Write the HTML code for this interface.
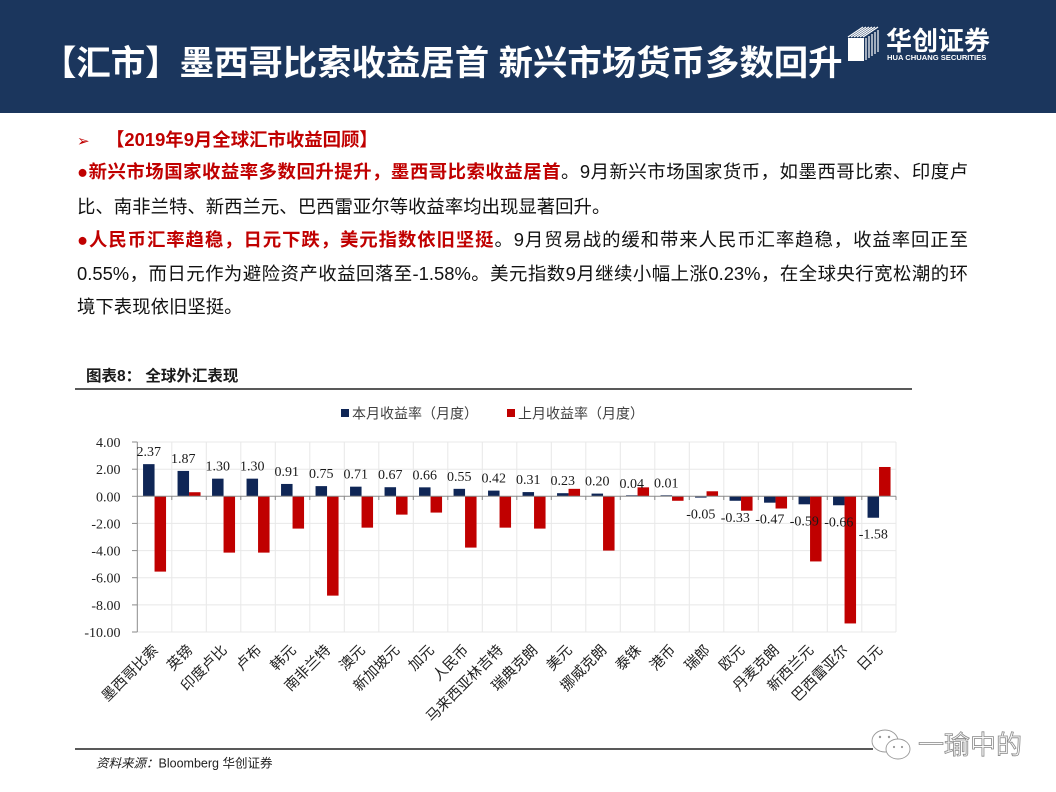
<!DOCTYPE html>
<html><head><meta charset="utf-8">
<style>
html,body{margin:0;padding:0;}
body{width:1056px;height:792px;position:relative;background:#fff;overflow:hidden;font-family:"Liberation Sans","Noto Sans CJK SC",sans-serif;}
.hdr{position:absolute;left:0;top:0;width:1056px;height:113px;background:#1b365d;}
.title{position:absolute;left:42px;top:40px;font-size:34.4px;font-weight:bold;color:#fff;white-space:nowrap;line-height:48px;font-family:"Liberation Sans","Noto Sans CJK SC",sans-serif;}
.logo1{position:absolute;left:886px;top:26px;font-size:26px;font-weight:bold;color:#fff;line-height:30px;letter-spacing:0px;white-space:nowrap;}
.logo2{position:absolute;left:887px;top:53px;font-size:7.6px;font-weight:bold;color:#fff;line-height:9px;white-space:nowrap;}
.ln{position:absolute;left:77px;font-size:18.4px;line-height:34px;height:34px;white-space:nowrap;color:#111;}
.j{width:891px;text-align:justify;text-align-last:justify;white-space:normal;overflow:hidden;}
.r{color:#c00000;font-weight:bold;}
</style></head>
<body>
<div class="hdr"></div>
<div class="title">【汇市】墨西哥比索收益居首 新兴市场货币多数回升</div>
<svg style="position:absolute;left:0;top:0" width="1056" height="113">
  <g stroke="#fff" stroke-width="1.2" fill="none">
    <line x1="848" y1="37" x2="863" y2="27"/>
    <line x1="851" y1="37" x2="866" y2="27"/>
    <line x1="854" y1="37" x2="869" y2="27"/>
    <line x1="857" y1="37" x2="872" y2="27"/>
    <line x1="860" y1="37" x2="875" y2="27"/>
    <line x1="863" y1="37" x2="878" y2="27"/>
    <line x1="866" y1="38" x2="866" y2="60"/>
    <line x1="869" y1="36" x2="869" y2="58"/>
    <line x1="872" y1="34" x2="872" y2="56"/>
    <line x1="875" y1="32" x2="875" y2="54"/>
    <line x1="878" y1="30" x2="878" y2="52"/>
  </g>
  <rect x="848" y="38" width="16" height="23" fill="#fff"/>
</svg>
<div class="logo1">华创证券</div>
<div class="logo2">HUA CHUANG SECURITIES</div>

<div class="ln" style="top:123px;left:77px;"><span style="color:#c00000;font-family:'DejaVu Sans',sans-serif;font-size:15px;">➢</span></div>
<div class="ln r" style="top:123px;left:106px;">【2019年9月全球汇市收益回顾】</div>
<div class="ln j" style="top:155px;"><span class="r">●新兴市场国家收益率多数回升提升，墨西哥比索收益居首</span>。9月新兴市场国家货币，如墨西哥比索、印度卢</div>
<div class="ln" style="top:190px;">比、南非兰特、新西兰元、巴西雷亚尔等收益率均出现显著回升。</div>
<div class="ln j" style="top:223px;"><span class="r">●人民币汇率趋稳，日元下跌，美元指数依旧坚挺</span>。9月贸易战的缓和带来人民币汇率趋稳，收益率回正至</div>
<div class="ln j" style="top:257px;">0.55%，而日元作为避险资产收益回落至-1.58%。美元指数9月继续小幅上涨0.23%，在全球央行宽松潮的环</div>
<div class="ln" style="top:290px;">境下表现依旧坚挺。</div>

<svg style="position:absolute;left:0;top:0" width="1056" height="792" font-family="'Liberation Serif',serif">
  <!-- chart title -->
  <text x="86" y="381" font-family="'Liberation Sans','Noto Sans CJK SC',sans-serif" font-size="15.5" font-weight="bold" fill="#1a1a1a">图表8： 全球外汇表现</text>
  <line x1="75" y1="389" x2="912" y2="389" stroke="#222" stroke-width="1.5"/>
  <!-- legend -->
  <rect x="341" y="409" width="8" height="8" fill="#0f2656"/>
  <text x="352" y="418.5" font-family="'Liberation Sans','Noto Sans CJK SC',sans-serif" font-size="14" fill="#404040">本月收益率（月度）</text>
  <rect x="507" y="409" width="8" height="8" fill="#c00000"/>
  <text x="518" y="418.5" font-family="'Liberation Sans','Noto Sans CJK SC',sans-serif" font-size="14" fill="#404040">上月收益率（月度）</text>
  <!-- grid -->
  <g stroke="#e8e8e8" stroke-width="1">
    <line x1="137.3" y1="442" x2="896" y2="442"/>
    <line x1="137.3" y1="469.2" x2="896" y2="469.2"/>
    <line x1="137.3" y1="523.4" x2="896" y2="523.4"/>
    <line x1="137.3" y1="550.6" x2="896" y2="550.6"/>
    <line x1="137.3" y1="577.7" x2="896" y2="577.7"/>
    <line x1="137.3" y1="604.9" x2="896" y2="604.9"/>
    <line x1="137.3" y1="632" x2="896" y2="632"/>
    <line x1="171.8" y1="442" x2="171.8" y2="632"/>
    <line x1="206.3" y1="442" x2="206.3" y2="632"/>
    <line x1="240.8" y1="442" x2="240.8" y2="632"/>
    <line x1="275.3" y1="442" x2="275.3" y2="632"/>
    <line x1="309.8" y1="442" x2="309.8" y2="632"/>
    <line x1="344.3" y1="442" x2="344.3" y2="632"/>
    <line x1="378.8" y1="442" x2="378.8" y2="632"/>
    <line x1="413.3" y1="442" x2="413.3" y2="632"/>
    <line x1="447.8" y1="442" x2="447.8" y2="632"/>
    <line x1="482.3" y1="442" x2="482.3" y2="632"/>
    <line x1="516.8" y1="442" x2="516.8" y2="632"/>
    <line x1="551.3" y1="442" x2="551.3" y2="632"/>
    <line x1="585.8" y1="442" x2="585.8" y2="632"/>
    <line x1="620.3" y1="442" x2="620.3" y2="632"/>
    <line x1="654.8" y1="442" x2="654.8" y2="632"/>
    <line x1="689.3" y1="442" x2="689.3" y2="632"/>
    <line x1="723.8" y1="442" x2="723.8" y2="632"/>
    <line x1="758.3" y1="442" x2="758.3" y2="632"/>
    <line x1="792.8" y1="442" x2="792.8" y2="632"/>
    <line x1="827.3" y1="442" x2="827.3" y2="632"/>
    <line x1="861.8" y1="442" x2="861.8" y2="632"/>
    <line x1="896" y1="442" x2="896" y2="632"/>
  </g>
  <!-- bars navy -->
  <g fill="#0f2656">
    <rect x="143.05" y="464.14" width="11.5" height="32.16"/>
    <rect x="177.55" y="470.92" width="11.5" height="25.38"/>
    <rect x="212.05" y="478.66" width="11.5" height="17.64"/>
    <rect x="246.55" y="478.66" width="11.5" height="17.64"/>
    <rect x="281.05" y="483.95" width="11.5" height="12.35"/>
    <rect x="315.55" y="486.12" width="11.5" height="10.18"/>
    <rect x="350.05" y="486.67" width="11.5" height="9.63"/>
    <rect x="384.55" y="487.21" width="11.5" height="9.09"/>
    <rect x="419.05" y="487.34" width="11.5" height="8.96"/>
    <rect x="453.55" y="488.84" width="11.5" height="7.46"/>
    <rect x="488.05" y="490.6" width="11.5" height="5.7"/>
    <rect x="522.55" y="492.09" width="11.5" height="4.21"/>
    <rect x="557.05" y="493.18" width="11.5" height="3.12"/>
    <rect x="591.55" y="493.59" width="11.5" height="2.71"/>
    <rect x="626.05" y="495.3" width="11.5" height="1.0"/>
    <rect x="660.55" y="495.3" width="11.5" height="1.0"/>
    <rect x="695.05" y="496.3" width="11.5" height="1.3"/>
    <rect x="729.55" y="496.3" width="11.5" height="4.48"/>
    <rect x="764.05" y="496.3" width="11.5" height="6.38"/>
    <rect x="798.55" y="496.3" width="11.5" height="8.01"/>
    <rect x="833.05" y="496.3" width="11.5" height="8.96"/>
    <rect x="867.55" y="496.3" width="11.5" height="21.44"/>
  </g>
  <!-- bars red -->
  <g fill="#c00000">
    <rect x="154.55" y="496.3" width="11.5" height="75.31"/>
    <rect x="189.05" y="492.23" width="11.5" height="4.07"/>
    <rect x="223.55" y="496.3" width="11.5" height="56.32"/>
    <rect x="258.05" y="496.3" width="11.5" height="56.32"/>
    <rect x="292.55" y="496.3" width="11.5" height="32.3"/>
    <rect x="327.05" y="496.3" width="11.5" height="99.33"/>
    <rect x="361.55" y="496.3" width="11.5" height="31.35"/>
    <rect x="396.05" y="496.3" width="11.5" height="18.32"/>
    <rect x="430.55" y="496.3" width="11.5" height="16.28"/>
    <rect x="465.05" y="496.3" width="11.5" height="51.29"/>
    <rect x="499.55" y="496.3" width="11.5" height="31.35"/>
    <rect x="534.05" y="496.3" width="11.5" height="32.3"/>
    <rect x="568.55" y="488.84" width="11.5" height="7.46"/>
    <rect x="603.05" y="496.3" width="11.5" height="54.28"/>
    <rect x="637.55" y="487.34" width="11.5" height="8.96"/>
    <rect x="672.05" y="496.3" width="11.5" height="4.48"/>
    <rect x="706.55" y="491.28" width="11.5" height="5.02"/>
    <rect x="741.05" y="496.3" width="11.5" height="14.38"/>
    <rect x="775.55" y="496.3" width="11.5" height="12.21"/>
    <rect x="810.05" y="496.3" width="11.5" height="65.14"/>
    <rect x="844.55" y="496.3" width="11.5" height="127.15"/>
    <rect x="879.05" y="466.99" width="11.5" height="29.31"/>
  </g>
  <!-- axes -->
  <g stroke="#8a8a8a" stroke-width="1">
    <line x1="137.3" y1="442" x2="137.3" y2="632"/>
    <line x1="132" y1="442" x2="137.3" y2="442"/>
    <line x1="132" y1="469.2" x2="137.3" y2="469.2"/>
    <line x1="132" y1="496.3" x2="137.3" y2="496.3"/>
    <line x1="132" y1="523.4" x2="137.3" y2="523.4"/>
    <line x1="132" y1="550.6" x2="137.3" y2="550.6"/>
    <line x1="132" y1="577.7" x2="137.3" y2="577.7"/>
    <line x1="132" y1="604.9" x2="137.3" y2="604.9"/>
    <line x1="132" y1="632" x2="137.3" y2="632"/>
    <line x1="137.3" y1="496.3" x2="896" y2="496.3"/>
  </g>
  <g stroke="#8a8a8a" stroke-width="1">
    <line x1="171.8" y1="496.3" x2="171.8" y2="500"/>
    <line x1="206.3" y1="496.3" x2="206.3" y2="500"/>
    <line x1="240.8" y1="496.3" x2="240.8" y2="500"/>
    <line x1="275.3" y1="496.3" x2="275.3" y2="500"/>
    <line x1="309.8" y1="496.3" x2="309.8" y2="500"/>
    <line x1="344.3" y1="496.3" x2="344.3" y2="500"/>
    <line x1="378.8" y1="496.3" x2="378.8" y2="500"/>
    <line x1="413.3" y1="496.3" x2="413.3" y2="500"/>
    <line x1="447.8" y1="496.3" x2="447.8" y2="500"/>
    <line x1="482.3" y1="496.3" x2="482.3" y2="500"/>
    <line x1="516.8" y1="496.3" x2="516.8" y2="500"/>
    <line x1="551.3" y1="496.3" x2="551.3" y2="500"/>
    <line x1="585.8" y1="496.3" x2="585.8" y2="500"/>
    <line x1="620.3" y1="496.3" x2="620.3" y2="500"/>
    <line x1="654.8" y1="496.3" x2="654.8" y2="500"/>
    <line x1="689.3" y1="496.3" x2="689.3" y2="500"/>
    <line x1="723.8" y1="496.3" x2="723.8" y2="500"/>
    <line x1="758.3" y1="496.3" x2="758.3" y2="500"/>
    <line x1="792.8" y1="496.3" x2="792.8" y2="500"/>
    <line x1="827.3" y1="496.3" x2="827.3" y2="500"/>
    <line x1="861.8" y1="496.3" x2="861.8" y2="500"/>
    <line x1="896" y1="496.3" x2="896" y2="500"/>
  </g>
  <!-- y labels -->
  <g font-size="14" fill="#222" text-anchor="end">
    <text x="120.5" y="447">4.00</text>
    <text x="120.5" y="474.2">2.00</text>
    <text x="120.5" y="501.3">0.00</text>
    <text x="120.5" y="528.4">-2.00</text>
    <text x="120.5" y="555.6">-4.00</text>
    <text x="120.5" y="582.7">-6.00</text>
    <text x="120.5" y="609.9">-8.00</text>
    <text x="120.5" y="637">-10.00</text>
  </g>
  <!-- data labels -->
  <g font-size="14" fill="#1a1a1a" text-anchor="middle">
    <text x="148.8" y="456.1">2.37</text>
    <text x="183.3" y="462.9">1.87</text>
    <text x="217.8" y="470.7">1.30</text>
    <text x="252.3" y="470.7">1.30</text>
    <text x="286.8" y="476">0.91</text>
    <text x="321.3" y="478.1">0.75</text>
    <text x="355.8" y="478.7">0.71</text>
    <text x="390.3" y="479.2">0.67</text>
    <text x="424.8" y="479.3">0.66</text>
    <text x="459.3" y="480.8">0.55</text>
    <text x="493.8" y="482.6">0.42</text>
    <text x="528.3" y="484.1">0.31</text>
    <text x="562.8" y="485.2">0.23</text>
    <text x="597.3" y="485.6">0.20</text>
    <text x="631.8" y="487.8">0.04</text>
    <text x="666.3" y="487.3">0.01</text>
    <text x="700.8" y="518.3">-0.05</text>
    <text x="735.3" y="521.8">-0.33</text>
    <text x="769.8" y="523.7">-0.47</text>
    <text x="804.3" y="525.3">-0.59</text>
    <text x="838.8" y="526.3">-0.66</text>
    <text x="873.3" y="538.7">-1.58</text>
  </g>
  <!-- category labels -->
  <g font-family="'Liberation Sans','Noto Sans CJK SC',sans-serif" font-size="14.5" fill="#222" text-anchor="end" dominant-baseline="central">
    <text transform="translate(156,648) rotate(-45)">墨西哥比索</text>
    <text transform="translate(190.5,648) rotate(-45)">英镑</text>
    <text transform="translate(225,648) rotate(-45)">印度卢比</text>
    <text transform="translate(259.5,648) rotate(-45)">卢布</text>
    <text transform="translate(294,648) rotate(-45)">韩元</text>
    <text transform="translate(328.5,648) rotate(-45)">南非兰特</text>
    <text transform="translate(363,648) rotate(-45)">澳元</text>
    <text transform="translate(397.5,648) rotate(-45)">新加坡元</text>
    <text transform="translate(432,648) rotate(-45)">加元</text>
    <text transform="translate(466.5,648) rotate(-45)">人民币</text>
    <text transform="translate(501,648) rotate(-45)">马来西亚林吉特</text>
    <text transform="translate(535.5,648) rotate(-45)">瑞典克朗</text>
    <text transform="translate(570,648) rotate(-45)">美元</text>
    <text transform="translate(604.5,648) rotate(-45)">挪威克朗</text>
    <text transform="translate(639,648) rotate(-45)">泰铢</text>
    <text transform="translate(673.5,648) rotate(-45)">港币</text>
    <text transform="translate(708,648) rotate(-45)">瑞郎</text>
    <text transform="translate(742.5,648) rotate(-45)">欧元</text>
    <text transform="translate(777,648) rotate(-45)">丹麦克朗</text>
    <text transform="translate(811.5,648) rotate(-45)">新西兰元</text>
    <text transform="translate(846,648) rotate(-45)">巴西雷亚尔</text>
    <text transform="translate(880.5,648) rotate(-45)">日元</text>
  </g>
  <!-- footer -->
  <line x1="75" y1="749" x2="873" y2="749" stroke="#222" stroke-width="1.5"/>
  <text x="96" y="767.5" font-family="'Liberation Sans','Noto Sans CJK SC',sans-serif" font-size="12.5" fill="#222"><tspan font-style="italic">资料来源：</tspan>Bloomberg 华创证券</text>
  <!-- watermark -->
  <g fill="#fff" stroke="#999" stroke-width="0.9">
    <ellipse cx="885" cy="741" rx="13" ry="11"/>
    <ellipse cx="898" cy="749" rx="12" ry="10"/>
  </g>
  <g fill="#999">
    <circle cx="880" cy="737" r="1.2"/><circle cx="889" cy="737" r="1.2"/>
    <circle cx="894" cy="747" r="1.1"/><circle cx="902" cy="747" r="1.1"/>
  </g>
  <text x="918" y="754" font-family="'Liberation Sans','Noto Sans CJK SC',sans-serif" font-size="26" fill="#fafafa" stroke="#8a8a8a" stroke-width="0.8">一瑜中的</text>
</svg>
</body></html>
